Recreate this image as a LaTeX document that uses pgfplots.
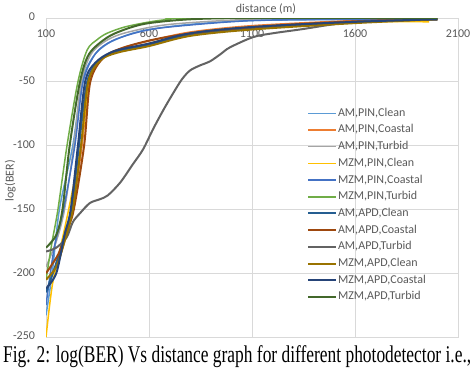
\documentclass[border=0pt]{standalone}
\usepackage{graphicx}
\usepackage{pgfplots}
\pgfplotsset{compat=1.18}
\usepackage{fontspec}
\setmainfont{Carlito}
\newfontfamily\capfont{Liberation Serif}
\definecolor{c1}{HTML}{5B9BD5}
\definecolor{c2}{HTML}{ED7D31}
\definecolor{c3}{HTML}{A5A5A5}
\definecolor{c4}{HTML}{FFC000}
\definecolor{c5}{HTML}{4472C4}
\definecolor{c6}{HTML}{70AD47}
\definecolor{c7}{HTML}{255E91}
\definecolor{c8}{HTML}{9E480E}
\definecolor{c9}{HTML}{636363}
\definecolor{c10}{HTML}{997300}
\definecolor{c11}{HTML}{264478}
\definecolor{c12}{HTML}{43682B}
\definecolor{gridgray}{HTML}{D9D9D9}
\definecolor{labelgray}{HTML}{595959}
\begin{document}
\begin{tikzpicture}[x=1bp,y=1bp]
\begin{axis}[
  scale only axis, width=412bp, height=319bp,
  at={(46bp,-18bp)}, anchor=north west,
  xmin=100, xmax=2100, ymin=-250, ymax=0,
  xtick={100,600,1100,1600,2100}, xticklabels={100,600,1100,1600,2100},
  ytick={0,-50,-100,-150,-200,-250}, yticklabels={0,-50,-100,-150,-200,-250},
  xticklabel pos=upper,
  xticklabel style={anchor=north, yshift=-8bp},
  yticklabel style={xshift=-7.5bp, yshift=1bp},
  tick label style={font=\fontsize{12bp}{14bp}\selectfont, text=labelgray},
  major tick length=0pt,
  grid=major, grid style={draw=gridgray, line width=0.75bp},
  axis line style={draw=gridgray, line width=0.75bp},
  xlabel={distance (m)},
  xlabel style={at={(axis description cs:0.534,1)}, anchor=center, yshift=9bp, font=\fontsize{12bp}{14bp}\selectfont, text=labelgray},
  ylabel={log(BER)},
  ylabel style={at={(axis description cs:-0.087,0.49)}, anchor=center, font=\fontsize{12bp}{14bp}\selectfont, text=labelgray},
  legend cell align=left,
  legend image code/.code={\draw[#1] (0bp,0bp) -- (28bp,0bp);},
  legend style={at={(axis description cs:0.633,0.724)}, anchor=north west, draw=none, fill=none,
    font=\fontsize{12bp}{14bp}\selectfont, text=labelgray, inner sep=0pt, row sep=2.7bp,
    nodes={inner sep=1bp, text height=9bp, text depth=3bp}},
  every axis plot/.append style={smooth, tension=0.5},
]
% AM,PIN,Clean
\addplot[c1, line width=1.5bp] coordinates {(100,-233) (130,-200) (165,-150) (230,-100) (275,-50) (330,-30) (400,-20) (500,-13) (600,-9) (800,-5) (1100,-2) (1600,-1) (2000,0)};
\addlegendentry{AM,PIN,Clean}
% AM,PIN,Coastal
\addplot[c2, line width=1.5bp] coordinates {(100,-205) (150,-195) (200,-170) (230,-150) (275,-100) (310,-50) (370,-32) (460,-24) (600,-18) (800,-11) (1100,-6) (1600,-2) (2000,-1)};
\addlegendentry{AM,PIN,Coastal}
% AM,PIN,Turbid
\addplot[c3, line width=1.5bp] coordinates {(100,-195) (150,-175) (190,-150) (235,-100) (272,-50) (320,-28) (400,-17) (500,-11) (700,-5) (1100,-1) (1600,0) (2000,0)};
\addlegendentry{AM,PIN,Turbid}
% MZM,PIN,Clean
\addplot[c4, line width=1.5bp] coordinates {(100,-250) (130,-210) (170,-180) (210,-150) (270,-100) (310,-50) (360,-34) (450,-26) (600,-20) (800,-12) (1100,-7) (1600,-3) (1960,-3)};
\addlegendentry{MZM,PIN,Clean}
% MZM,PIN,Coastal
\addplot[c5, line width=1.5bp] coordinates {(100,-225) (140,-180) (185,-150) (240,-100) (280,-50) (340,-28) (420,-18) (550,-11) (700,-7) (1100,-2) (1600,-1) (2000,-1)};
\addlegendentry{MZM,PIN,Coastal}
% MZM,PIN,Turbid
\addplot[c6, line width=1.5bp] coordinates {(100,-205) (130,-175) (158,-150) (202,-100) (255,-50) (300,-25) (348,-17) (396,-12) (483,-7) (605,-3) (700,-1) (800,0) (2000,0)};
\addlegendentry{MZM,PIN,Turbid}
% AM,APD,Clean
\addplot[c7, line width=2bp] coordinates {(100,-215) (150,-192) (200,-165) (225,-150) (260,-100) (300,-50) (360,-33) (450,-26) (600,-21) (800,-13) (1100,-8) (1600,-3) (2000,-1)};
\addlegendentry{AM,APD,Clean}
% AM,APD,Coastal
\addplot[c8, line width=2bp] coordinates {(100,-200) (160,-185) (205,-165) (235,-150) (285,-100) (315,-50) (380,-31) (480,-23) (650,-16) (900,-10) (1300,-5) (1700,-2) (2000,-1)};
\addlegendentry{AM,APD,Coastal}
% AM,APD,Turbid
\addplot[c9, line width=2bp] coordinates {(100,-183) (150,-180) (200,-172) (230,-160) (265,-153) (313,-145) (362,-142) (400,-139) (460,-129) (520,-115) (571,-103) (620,-87) (670,-72) (717,-59) (760,-48) (800,-41) (850,-37) (896,-34) (950,-28) (993,-23) (1105,-15) (1200,-12) (1333,-9) (1600,-3) (2000,-1)};
\addlegendentry{AM,APD,Turbid}
% MZM,APD,Clean
\addplot[c10, line width=2bp] coordinates {(100,-205) (150,-195) (190,-175) (230,-150) (270,-100) (305,-50) (365,-33) (450,-27) (600,-22) (800,-14) (1100,-9) (1600,-4) (2000,-1)};
\addlegendentry{MZM,APD,Clean}
% MZM,APD,Coastal
\addplot[c11, line width=2bp] coordinates {(100,-212) (150,-200) (190,-170) (220,-150) (255,-100) (290,-50) (340,-35) (430,-26) (600,-20) (800,-12) (1100,-7) (1600,-3) (2000,-1)};
\addlegendentry{MZM,APD,Coastal}
% MZM,APD,Turbid
\addplot[c12, line width=2bp] coordinates {(100,-180) (150,-170) (180,-150) (215,-100) (265,-50) (310,-28) (400,-15) (500,-8) (600,-4) (800,-1) (1100,0) (2000,0)};
\addlegendentry{MZM,APD,Turbid}
\end{axis}
\node[anchor=base west, inner sep=0pt] at (3,-362.5) {\resizebox{468bp}{\height}{\capfont\fontsize{24bp}{24bp}\selectfont Fig. 2: log(BER) Vs distance graph for different photodetector i.e.,}};
\pgfresetboundingbox
\path (0,0) rectangle (474,-368);
\end{tikzpicture}
\end{document}
